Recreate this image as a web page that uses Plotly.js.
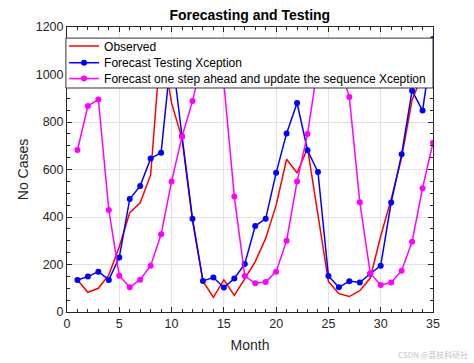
<!DOCTYPE html>
<html>
<head>
<meta charset="utf-8">
<script src="https://cdn.plot.ly/plotly-3.0.1.min.js"></script>
<style>
html,body{margin:0;padding:0;background:#fff;}
#chart{width:474px;height:363px;}
</style>
</head>
<body>
<div id="chart"></div>
<script>
// Month index
const months = Array.from({length: 35}, (_, i) => i + 1);

// Observed cases
const observed = [135, 83, 100, 156, 275, 418, 460, 577, 1150, 880,
                  730, 385, 130, 62, 135, 70, 140, 212, 310, 450,
                  643, 585, 690, 400, 128, 77, 65, 90, 143, 320,
                  475, 650, 893, 1000, 1120];

// Forecast Testing Xception
const forecastTesting = [135, 149, 170, 135, 230, 476, 531, 646, 671, 1100,
                         740, 393, 131, 145, 103, 141, 202, 362, 393, 586,
                         752, 880, 681, 589, 152, 104, 130, 124, 161, 195,
                         461, 664, 932, 848, 1149];

// Forecast one step ahead and update the sequence Xception
const forecastOneStep = [682, 867, 895, 429, 153, 104, 136, 195, 327, 550,
                         738, 888, 1080, 1140, 965, 486, 152, 121, 126, 170,
                         300, 550, 749, 1040, 1130, 1050, 905, 462, 163, 114,
                         124, 174, 296, 521, 713];

const seriesNames = ['Observed', 'Forecast Testing Xception',
                     'Forecast one step ahead and update the sequence Xception'];

const xTicks = [0, 5, 10, 15, 20, 25, 30, 35];
const yTicks = [0, 200, 400, 600, 800, 1000, 1200];

const FONT = 'Liberation Sans, Arial, Helvetica, sans-serif';
const AX = '#262626';

const traces = [
  {x: months, y: observed, name: seriesNames[0], type: 'scatter', mode: 'lines',
   legend: 'legend',
   line: {color: '#ff0000', width: 1.5}},
  {x: months, y: forecastTesting, name: seriesNames[1], type: 'scatter', mode: 'lines+markers',
   legend: 'legend2',
   line: {color: '#0000ff', width: 1.5}, marker: {color: '#0000ff', size: 6}},
  {x: months, y: forecastOneStep, name: seriesNames[2], type: 'scatter', mode: 'lines+markers',
   legend: 'legend3',
   line: {color: '#ff00ff', width: 1.5}, marker: {color: '#ff00ff', size: 6}}
];

const axisCommon = {
  showline: true, linecolor: AX, linewidth: 1, mirror: 'ticks',
  ticks: 'inside', ticklen: 5, tickcolor: AX, tickwidth: 1,
  showgrid: true, gridcolor: '#e2e2e2', gridwidth: 1,
  zeroline: false, tickfont: {family: FONT, size: 12.5, color: AX},
  fixedrange: true
};

function legendAt(y) {
  return {x: -0.008, xanchor: 'left', y: y, yanchor: 'middle',
          bgcolor: 'rgba(0,0,0,0)', borderwidth: 0,
          font: {family: FONT, size: 12, color: '#000'}};
}

const layout = {
  width: 474, height: 363,
  margin: {l: 67, r: 41, t: 27, b: 51},
  paper_bgcolor: '#ffffff', plot_bgcolor: '#ffffff',
  font: {family: FONT, color: AX},
  title: {text: '<b>Forecasting and Testing</b>', font: {family: FONT, size: 14, color: '#000'},
          x: 0.527, xanchor: 'center', y: 0.958, yanchor: 'middle'},
  xaxis: Object.assign({}, axisCommon, {
    range: [0, 35], tickvals: xTicks, ticktext: xTicks.map(String),
    minor: {dtick: 1, ticks: 'inside', ticklen: 3, tickcolor: AX, showgrid: false},
    title: {text: 'Month', font: {family: FONT, size: 14, color: AX}, standoff: 10}
  }),
  yaxis: Object.assign({}, axisCommon, {
    range: [0, 1200], tickvals: yTicks, ticktext: yTicks.map(String),
    minor: {dtick: 50, ticks: 'inside', ticklen: 3, tickcolor: AX, showgrid: false},
    title: {text: 'No Cases', font: {family: FONT, size: 14, color: AX}, standoff: 3}
  }),
  showlegend: true,
  legend: legendAt(0.933),
  legend2: legendAt(0.875),
  legend3: legendAt(0.819),
  shapes: [{
    type: 'rect', xref: 'paper', yref: 'paper', x0: -0.003, x1: 1.0, y0: 0.786, y1: 0.961,
    fillcolor: '#ffffff', line: {color: '#333333', width: 1}, layer: 'above'
  }],
  annotations: [{
    text: 'CSDN @荔枝科研社', xref: 'paper', yref: 'paper', x: 1.101, y: -0.148,
    xanchor: 'right', yanchor: 'middle', showarrow: false,
    font: {family: 'Noto Sans CJK SC, Noto Sans, sans-serif', size: 8, color: '#c4c4c4'}
  }]
};

Plotly.newPlot('chart', traces, layout, {displayModeBar: false, staticPlot: true});
</script>
</body>
</html>
